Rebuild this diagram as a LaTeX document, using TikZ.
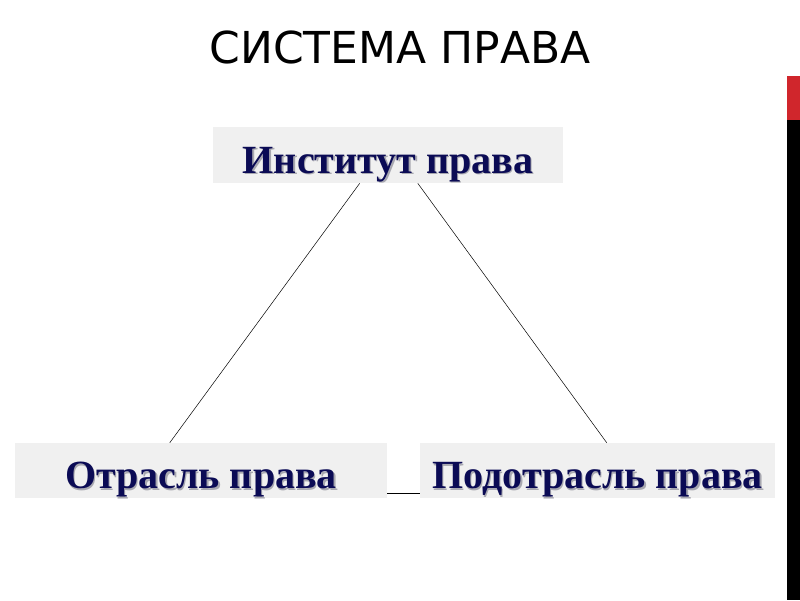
\documentclass[tikz,border=0pt]{standalone}
\usepackage{fontspec}
\setmainfont{Liberation Serif}
\newfontfamily\titlefont{DejaVu Sans}
\definecolor{boxgray}{HTML}{F0F0F0}
\definecolor{navy}{HTML}{0B0B55}
\definecolor{shade}{HTML}{A8A8B0}
\definecolor{barred}{HTML}{D0262C}
\tikzset{
 feld/.style={fill=boxgray,inner sep=0pt,minimum height=55pt},
 schrift/.style={inner sep=0pt,text height=36pt,text depth=0pt,font=\fontsize{40}{40}\selectfont\bfseries,text=navy},
 schatten/.style={schrift,text=shade}
}
\begin{document}
\begin{tikzpicture}[x=1pt,y=-1pt,line width=.5pt]
\useasboundingbox[fill=white] (0,0) rectangle (800,600);
%Rand
\fill[barred] (787,76) rectangle (800,120);
\fill[black] (787,120) rectangle (800,600);
%Titel
\node[anchor=base,inner sep=0pt,font=\titlefont\fontsize{44}{44}\selectfont] (titel) at (400,63) {СИСТЕМА ПРАВА};
%Felder
\node[feld,minimum width=350pt,minimum height=56pt] (inst) at (388,155) {};
\node[feld,minimum width=372pt] (otr) at (201,470.5) {};
\node[feld,minimum width=355pt] (podotr) at (597.5,470.5) {};
%Beschriftung
\node[schatten] at ([shift={(1.5,1.5)}]inst) {Институт права};
\node[schrift] at (inst) {Институт права};
\node[schatten] at ([shift={(1.5,1.5)}]otr) {Отрасль права};
\node[schrift] at (otr) {Отрасль права};
\node[schatten] at ([shift={(1.5,1.5)}]podotr) {Подотрасль права};
\node[schrift] at (podotr) {Подотрасль права};
%Linien
\draw ([xshift=147pt]inst.south west)--([xshift=155pt]otr.north west);
\draw ([xshift=205pt]inst.south west)--([xshift=187pt]podotr.north west);
\draw ([yshift=5pt]otr.south east)--([yshift=5pt]podotr.south west);
\end{tikzpicture}
\end{document}
